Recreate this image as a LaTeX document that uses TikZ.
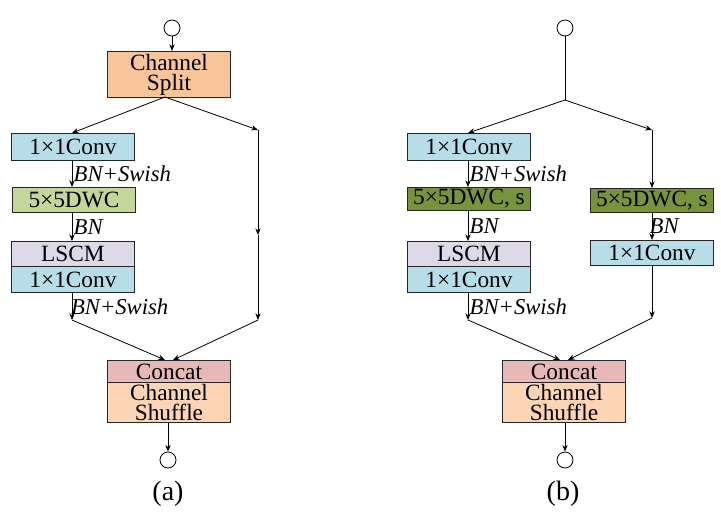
\documentclass[tikz,border=0pt]{standalone}
\usepackage{fontspec}
\setmainfont{Liberation Serif}
\usetikzlibrary{arrows.meta}
\definecolor{cor}{HTML}{F8C49A}
\definecolor{cbl}{HTML}{B7DEE8}
\definecolor{cgr}{HTML}{C4D79B}
\definecolor{cdg}{HTML}{77933C}
\definecolor{clv}{HTML}{DDD9E8}
\definecolor{cpk}{HTML}{E6B9B8}
\definecolor{csh}{HTML}{FBD5B5}
\begin{document}
\begin{tikzpicture}[x=0.75pt,y=-0.75pt,
 box/.style={draw=black!85,line width=0.7pt,inner sep=0pt,font=\fontsize{17.5}{15}\selectfont},
 circ/.style={draw,circle,minimum size=12pt,inner sep=0pt,line width=0.6pt},
 arr/.style={-{Stealth[length=5pt,width=4pt]},line width=0.6pt},
 ln/.style={line width=0.6pt},
 lab/.style={font=\fontsize{17}{17}\selectfont\itshape,anchor=west,inner sep=1pt}]
\useasboundingbox (0,0) rectangle (721,522);
\newcommand{\bx}[6]{\node[box,fill=#6,minimum width=123*0.75pt,minimum height=(#4-#3)*0.75pt,anchor=north west,align=center] (#5) at (#1,#3) {#2};}
% (a)
\node[circ] (ia) at (172,28) {};
\bx{107}{Channel\\Split}{51}{97}{cs}{cor}
\bx{11}{1×1Conv}{133}{160}{ac1}{cbl}
\bx{12}{5×5DWC}{187}{212}{adw}{cgr}
\bx{11}{LSCM}{241}{266}{als}{clv}
\bx{11}{1×1Conv}{266}{292}{ac2}{cbl}
\bx{107}{Concat}{360}{382}{acc}{cpk}
\bx{107}{\rule{0pt}{10pt}Channel\\Shuffle}{382}{422}{ash}{csh}
\node[circ] (oa) at (168,460) {};
\node[font=\fontsize{21}{21}\selectfont] (la) at (168,494) {(a)};
\draw[arr] (ia) -- (cs.north -| ia);
\coordinate (ar1) at (258,130);
\coordinate (ar2) at (258,235);
\coordinate (ar3) at (258,320);
\coordinate (al1) at (72,320);
\draw[arr] (165,97) -- (ac1.north -| 72,0);
\draw[arr] (165,97) -- (ar1);
\draw[arr] (ar1) -- (ar2);
\draw[arr] (ar2) -- (ar3);
\draw[arr] (ac1.south -| 72,0) -- (adw.north -| 72,0) node[lab,midway] {BN+Swish};
\draw[arr] (adw.south -| 72,0) -- (als.north -| 72,0) node[lab,midway] {BN};
\draw[arr] (ac2.south -| 72,0) -- (al1) node[lab,midway,xshift=-2pt] {BN+Swish};
\draw[arr] (al1) -- (165,360);
\draw[arr] (ar3) -- (173,360);
\draw[arr] (ash.south -| oa) -- (oa);
% (b)
\node[circ] (ib) at (565,28) {};
\coordinate (bs) at (565,100);
\bx{407}{1×1Conv}{133}{160}{bc1}{cbl}
\bx{407}{5×5DWC, s}{187}{210}{bdw}{cdg}
\bx{407}{LSCM}{241}{266}{bls}{clv}
\bx{407}{1×1Conv}{266}{292}{bc2}{cbl}
\bx{590}{5×5DWC, s}{188}{212}{rdw}{cdg}
\bx{590}{1×1Conv}{240}{265}{rc}{cbl}
\bx{502}{Concat}{360}{382}{bcc}{cpk}
\bx{502}{\rule{0pt}{10pt}Channel\\Shuffle}{382}{422}{bsh}{csh}
\node[circ] (ob) at (565,460) {};
\node[font=\fontsize{21}{21}\selectfont] (lb) at (563,494) {(b)};
\coordinate (br1) at (652,130);
\coordinate (br3) at (652,318);
\coordinate (bl1) at (468,320);
\draw[ln] (ib) -- (bs);
\draw[arr] (bs) -- (bc1.north -| 468,0);
\draw[arr] (bs) -- (br1);
\draw[arr] (br1) -- (rdw.north -| br1);
\draw[arr] (rdw.south -| br1) -- (rc.north -| br1) node[lab,midway,xshift=-3pt] {BN};
\draw[arr] (rc.south -| br1) -- (br3);
\draw[arr] (bc1.south -| 468,0) -- (bdw.north -| 468,0) node[lab,midway] {BN+Swish};
\draw[arr] (bdw.south -| 468,0) -- (bls.north -| 468,0) node[lab,midway] {BN};
\draw[arr] (bc2.south -| 468,0) -- (bl1) node[lab,midway] {BN+Swish};
\draw[arr] (bl1) -- (560,360);
\draw[arr] (br3) -- (568,360);
\draw[arr] (bsh.south -| ob) -- (ob);
\end{tikzpicture}
\end{document}
